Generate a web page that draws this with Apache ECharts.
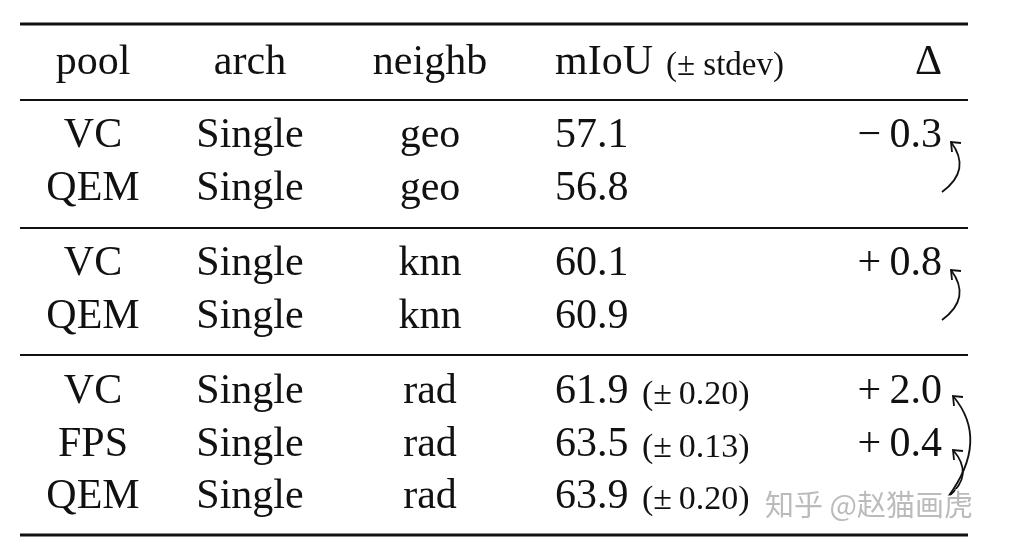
<!DOCTYPE html>
<html><head><meta charset="utf-8">
<script src="https://cdn.jsdelivr.net/npm/echarts@6/dist/echarts.min.js"></script>
<style>html,body{margin:0;background:#fff}#c{width:1009px;height:546px}</style>
</head><body><div id="c"></div>
<script>
var headers = ['pool', 'arch', 'neighb', 'mIoU', '\u0394'];
var pools = ['VC', 'QEM', 'VC', 'QEM', 'VC', 'FPS', 'QEM'];
var archs = ['Single', 'Single', 'Single', 'Single', 'Single', 'Single', 'Single'];
var neighbs = ['geo', 'geo', 'knn', 'knn', 'rad', 'rad', 'rad'];
var mious = ['57.1', '56.8', '60.1', '60.9', '61.9', '63.5', '63.9'];
var stdevs = ['', '', '', '', '(\u00b1\u20090.20)', '(\u00b1\u20090.13)', '(\u00b1\u20090.20)'];
var deltas = ['\u2212\u20090.3', '', '+\u20090.8', '', '+\u20092.0', '+\u20090.4', ''];
var rowY = [136, 189, 264, 317, 392, 445, 497];

var chart = echarts.init(document.getElementById('c'));
var font = '"Liberation Serif", "DejaVu Serif", serif';
var g = [];
function txt(x, y, s, align, size) {
  g.push({type: 'text', x: x, y: y, style: {text: s, font: (size || 42) + 'px ' + font, fill: '#111', align: align, verticalAlign: 'middle'}});
}
function rule(y, w) {
  g.push({type: 'line', shape: {x1: 20, y1: y, x2: 968, y2: y}, style: {stroke: '#111', lineWidth: w}});
}
rule(24, 3); rule(100, 2); rule(228, 2); rule(355, 2); rule(535, 3);

txt(93, 63, headers[0], 'center');
txt(250, 63, headers[1], 'center');
txt(430, 63, headers[2], 'center');
txt(555, 63, headers[3], 'left');
txt(666, 66, '(\u00b1 stdev)', 'left', 33);
txt(942, 63, headers[4], 'right');

for (var i = 0; i < pools.length; i++) {
  var y = rowY[i];
  txt(93, y, pools[i], 'center');
  txt(250, y, archs[i], 'center');
  txt(430, y, neighbs[i], 'center');
  txt(555, y, mious[i], 'left');
  if (stdevs[i]) txt(642, y + 3, stdevs[i], 'left', 34);
  if (deltas[i]) txt(942, y, deltas[i], 'right');
}

// curved arrow from (x1,y1) up to (x2,y2), chevron head pointing up-left
function arrow(x1, y1, x2, y2, cx, cy) {
  g.push({type: 'bezierCurve', shape: {x1: x1, y1: y1, x2: x2, y2: y2, cpx1: cx, cpy1: cy},
    style: {stroke: '#111', lineWidth: 1.8, fill: null}});
  g.push({type: 'polyline', shape: {points: [[x2 + 1, y2 + 10], [x2, y2], [x2 + 10, y2 + 1]]},
    style: {stroke: '#111', lineWidth: 1.8, fill: null}});
}
arrow(942, 192, 951, 142, 972, 170);
arrow(942, 320, 951, 270, 972, 298);
arrow(948, 497, 953, 396, 990, 440);
arrow(948, 497, 953, 450, 975, 475);

g.push({type: 'text', x: 765, y: 505, style: {text: '知乎 @赵猫画虎', font: '29px "Noto Sans CJK SC", sans-serif', fill: '#bbb', stroke: '#fff', lineWidth: 3, verticalAlign: 'middle'}});

chart.setOption({animation: false, graphic: g});
</script></body></html>
